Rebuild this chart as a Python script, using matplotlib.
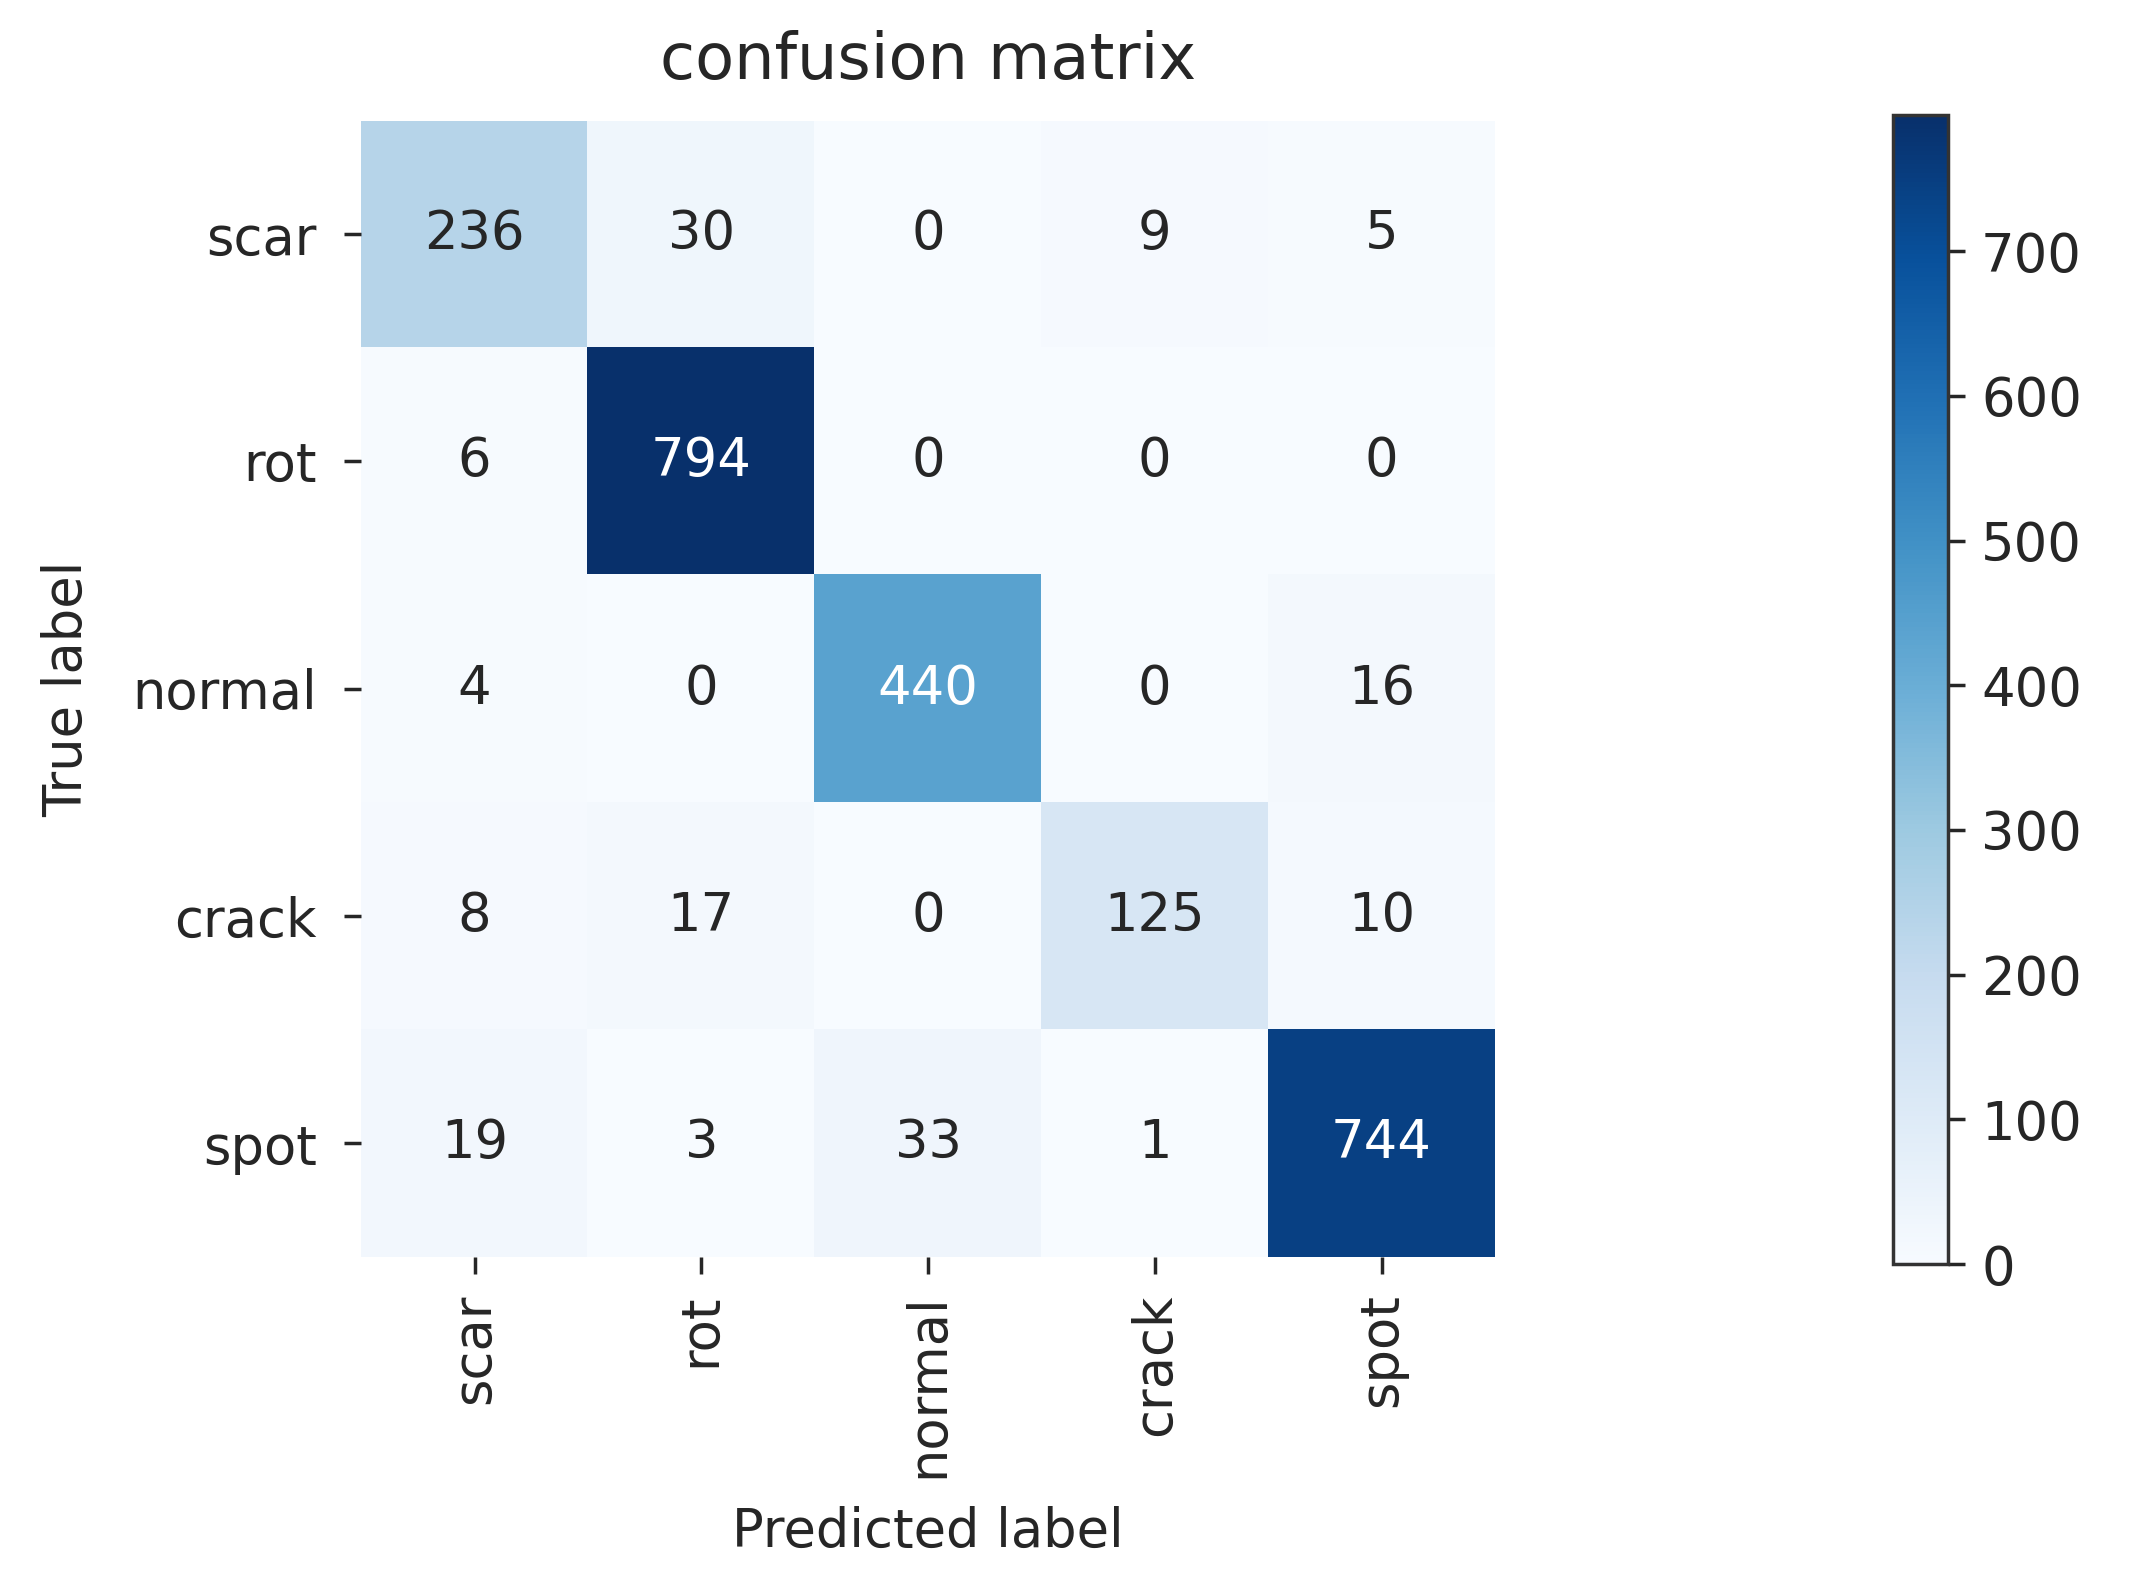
import numpy as np
import matplotlib.pyplot as plt

# Clases y matriz de confusion
classes = ["scar", "rot", "normal", "crack", "spot"]
cm = np.array([[236, 30, 0, 9, 5],
               [6, 794, 0, 0, 0],
               [4, 0, 440, 0, 16],
               [8, 17, 0, 125, 10],
               [19, 3, 33, 1, 744]])
cbar_ticks = [0, 100, 200, 300, 400, 500, 600, 700]

text_color = "#262626"
fs = 38

fig = plt.figure(figsize=(21.31, 15.87), dpi=100)
ax = fig.add_axes([0.1695, 0.208, 0.532, 0.716])
cax = fig.add_axes([0.8885, 0.2035, 0.0255, 0.724])

im = ax.imshow(cm, interpolation="nearest", cmap=plt.cm.Blues, aspect="auto",
               vmin=0, vmax=cm.max())
ax.set_title("confusion matrix", fontsize=46, color=text_color, pad=30)

tick_marks = np.arange(len(classes))
ax.set_xticks(tick_marks)
ax.set_xticklabels(classes, rotation=90)
ax.set_yticks(tick_marks)
ax.set_yticklabels(classes)
ax.tick_params(labelsize=fs, colors=text_color, length=12, width=2.5, pad=14)
ax.tick_params(axis="y", pad=20)
for s in ax.spines.values():
    s.set_visible(False)

# Numeros en cada celda
thresh = cm.max() / 2.
for i in range(cm.shape[0]):
    for j in range(cm.shape[1]):
        ax.text(j, i, format(cm[i, j], "d"),
                ha="center", va="center", fontsize=fs,
                color="white" if cm[i, j] > thresh else text_color)

ax.set_ylabel("True label", fontsize=fs, color=text_color, labelpad=28)
ax.set_xlabel("Predicted label", fontsize=fs, color=text_color, labelpad=20)

cb = fig.colorbar(im, cax=cax, ticks=cbar_ticks)
cb.ax.tick_params(labelsize=fs, colors=text_color, length=12, width=2.5, pad=12)
cb.outline.set_linewidth(2.5)
cb.outline.set_edgecolor("#333333")

fig.savefig("out.png", dpi=100)
